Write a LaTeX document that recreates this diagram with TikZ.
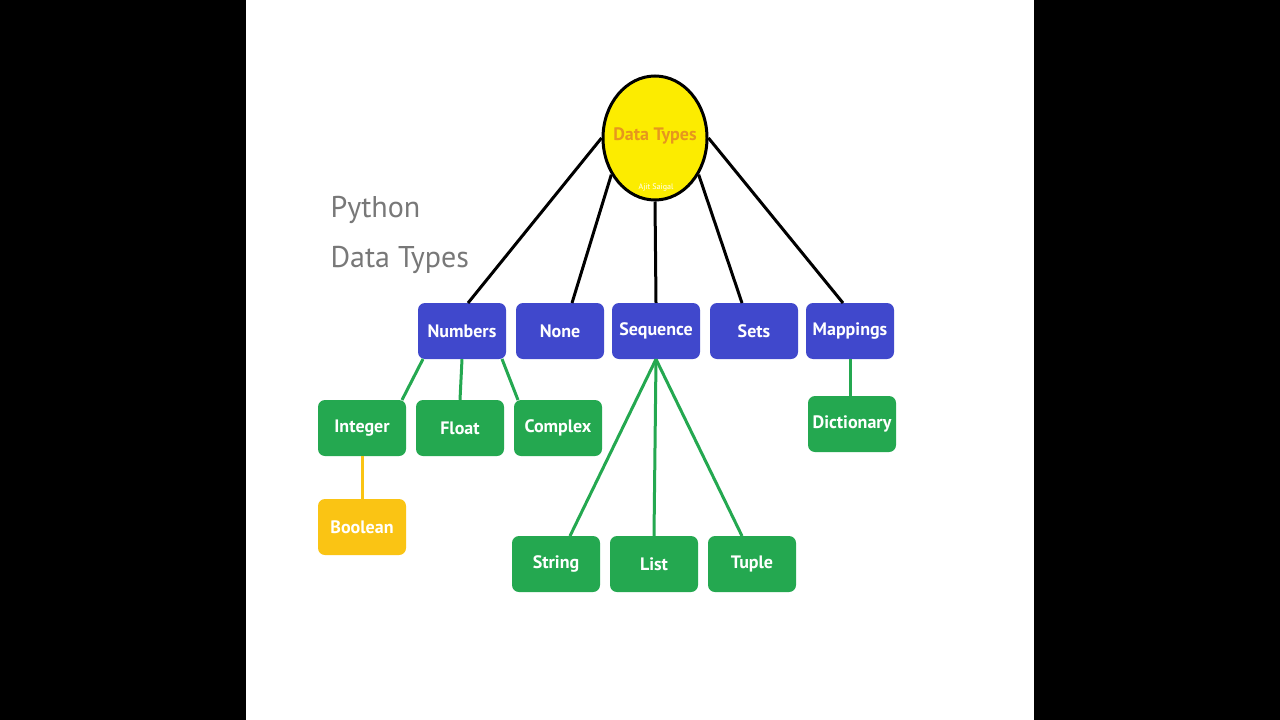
\documentclass[tikz,border=0pt]{standalone}
\usepackage{fontspec}
\setmainfont{PT Sans}
\usetikzlibrary{shapes.geometric}
\definecolor{bl}{RGB}{64,72,204}
\definecolor{gr}{RGB}{36,168,80}
\definecolor{ye}{RGB}{250,196,20}
\definecolor{cy}{RGB}{252,236,0}
\begin{document}
\begin{tikzpicture}[x=1pt,y=-1pt,
 bx/.style={rounded corners=7pt,minimum width=88pt,minimum height=56pt,text=white,font=\fontsize{18}{20}\selectfont\bfseries,inner sep=0pt},
 blb/.style={bx,fill=bl},
 grb/.style={bx,fill=gr},
 gl/.style={gr,line width=3pt},
 bk/.style={black,line width=3pt}]
\fill[black] (0,0) rectangle (1280,720);
\fill[white] (246,0) rectangle (1034,720);
\node[blb] (num) at (462,331) {Numbers};
\node[blb] (non) at (560,331) {None};
\node[blb] (seq) at (656,331) {Sequence};
\node[blb] (set) at (754,331) {Sets};
\node[blb] (map) at (850,331) {Mappings};
\node[grb] (int) at (362,428) {Integer};
\node[grb] (flo) at (460,428) {Float};
\node[grb] (com) at (558,428) {Complex};
\node[bx,fill=ye] (boo) at (362,527) {Boolean};
\node[grb] (dic) at (852,424) {Dictionary};
\node[grb] (str) at (556,564) {String};
\node[grb] (lis) at (654,564) {List};
\node[grb] (tup) at (752,564) {Tuple};
\node[ellipse,draw=black,line width=3pt,fill=cy,minimum width=104pt,minimum height=124pt,inner sep=0pt] (dt) at (655,138) {};
\node[text={rgb,255:red,230;green,150;blue,30},font=\fontsize{18}{18}\selectfont\bfseries] (dtl) at (655,136) {Data Types};
\node[text=white,font=\fontsize{8}{9}\selectfont] (aj) at (656,187) {Ajit Saigal};
\node[anchor=west,text={rgb,255:red,120;green,120;blue,120},font=\fontsize{30}{30}\selectfont] (py) at (327,210) {Python};
\node[anchor=west,text={rgb,255:red,120;green,120;blue,120},font=\fontsize{30}{30}\selectfont] (pdt) at (327,260) {Data Types};
\draw[bk] (dt.180) -- (468,303);
\draw[bk] (dt.-140) -- (572,303);
\draw[bk] (dt.south) -- (seq.north);
\draw[bk] (dt.-40) -- (742,303);
\draw[bk] (dt.0) -- (843,303);
\draw[gl] (423,359) -- (402,400);
\draw[gl] (num.south) -- (flo.north);
\draw[gl] (502,359) -- (518,400);
\draw[gl] (seq.south) -- (570,536);
\draw[gl] (seq.south) -- (lis.north);
\draw[gl] (seq.south) -- (742,536);
\draw[gl] (map.south) -- (850,396);
\draw[ye,line width=3pt] (int.south) -- (boo.north);
\end{tikzpicture}
\end{document}
